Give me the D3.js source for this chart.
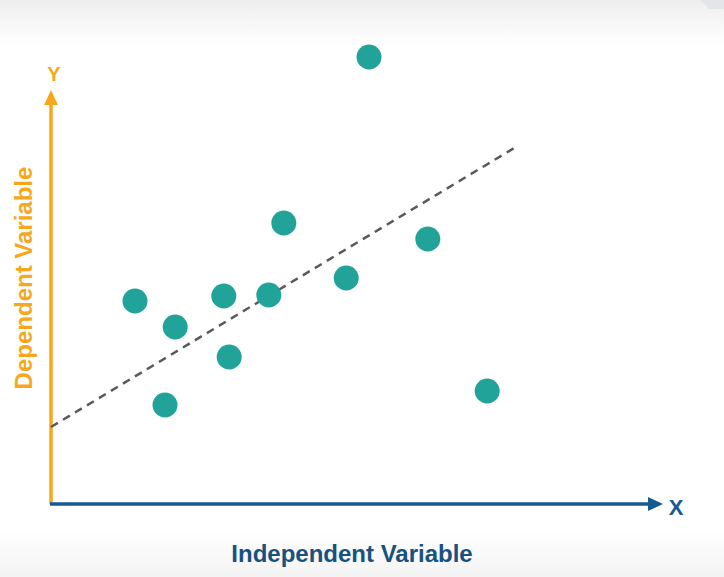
<!DOCTYPE html>
<html>
<head>
<meta charset="utf-8">
<script src="https://cdn.jsdelivr.net/npm/d3@7"></script>
<style>
  body { margin: 0; background: #fff; }
  svg { display: block; }
</style>
</head>
<body>
<script>
// observations (arbitrary units)
const xValues = [5.3, 3.88, 6.28, 4.92, 3.63, 2.88, 1.4, 2.07, 2.97, 1.9, 7.27];
const yValues = [11.15, 7.0, 6.6, 5.625, 5.2, 5.175, 5.05, 4.4, 3.65, 2.45, 2.8];
// trend line end points
const trendX = [0, 7.72];
const trendY = [1.9, 8.875];

const width = 724, height = 577;

const svg = d3.select('body').append('svg')
  .attr('width', width)
  .attr('height', height);

const defs = svg.append('defs');
const bg = defs.append('linearGradient')
  .attr('id', 'bg')
  .attr('x1', 0).attr('y1', 0).attr('x2', 0).attr('y2', 1);
bg.append('stop').attr('offset', '0%').attr('stop-color', '#eeeeee');
bg.append('stop').attr('offset', '8%').attr('stop-color', '#ffffff');
bg.append('stop').attr('offset', '92%').attr('stop-color', '#ffffff');
bg.append('stop').attr('offset', '100%').attr('stop-color', '#f3f3f3');

svg.append('rect')
  .attr('width', width).attr('height', height)
  .attr('fill', 'url(#bg)');

// faint corner of a frame, top right
svg.append('path')
  .attr('d', 'M700,0 L724,0 L724,9 L709,9 Z')
  .attr('fill', '#e3e6e9');

const xScale = d3.scaleLinear().domain([0, 10]).range([51, 651]);
const yScale = d3.scaleLinear().domain([0, 10]).range([503, 103]);

const orange = '#f6a71c';
const blue = '#155a92';
const font = 'Liberation Sans, Arial, sans-serif';

// y axis with arrow
svg.append('line')
  .attr('x1', xScale(0)).attr('y1', yScale(0) + 1)
  .attr('x2', xScale(0)).attr('y2', 102)
  .attr('stroke', orange).attr('stroke-width', 3.5);
svg.append('path')
  .attr('d', `M${xScale(0)},90 L${xScale(0) - 7},105 L${xScale(0) + 7},105 Z`)
  .attr('fill', orange);
svg.append('text')
  .attr('x', xScale(0) + 3).attr('y', 81)
  .attr('text-anchor', 'middle')
  .attr('font-family', font)
  .attr('font-weight', 'bold').attr('font-size', 20)
  .attr('fill', orange)
  .text('Y');

// x axis with arrow
svg.append('line')
  .attr('x1', xScale(0) - 1).attr('y1', yScale(0) + 1)
  .attr('x2', 650).attr('y2', yScale(0) + 1)
  .attr('stroke', blue).attr('stroke-width', 3.5);
svg.append('path')
  .attr('d', `M663,${yScale(0) + 1} L648,${yScale(0) - 6} L648,${yScale(0) + 8} Z`)
  .attr('fill', blue);
svg.append('text')
  .attr('x', 676).attr('y', 515)
  .attr('text-anchor', 'middle')
  .attr('font-family', font)
  .attr('font-weight', 'bold').attr('font-size', 22)
  .attr('fill', blue)
  .text('X');

// axis titles
svg.append('text')
  .attr('x', 352).attr('y', 562)
  .attr('text-anchor', 'middle')
  .attr('font-family', font)
  .attr('font-weight', 'bold').attr('font-size', 24)
  .attr('fill', '#17527f')
  .text('Independent Variable');

svg.append('text')
  .attr('transform', 'translate(32,278) rotate(-90)')
  .attr('text-anchor', 'middle')
  .attr('font-family', font)
  .attr('font-weight', 'bold').attr('font-size', 24)
  .attr('fill', orange)
  .text('Dependent Variable');

// dashed trend line
const line = d3.line()
  .x(d => xScale(d[0]))
  .y(d => yScale(d[1]));
svg.append('path')
  .attr('d', line(d3.zip(trendX, trendY)))
  .attr('stroke', '#5a5a5a')
  .attr('stroke-width', 2.5)
  .attr('stroke-dasharray', '8,6')
  .attr('fill', 'none');

// points
svg.selectAll('circle')
  .data(d3.zip(xValues, yValues))
  .join('circle')
  .attr('cx', d => xScale(d[0]))
  .attr('cy', d => yScale(d[1]))
  .attr('r', 12.5)
  .attr('fill', '#22a399');
</script>
</body>
</html>
